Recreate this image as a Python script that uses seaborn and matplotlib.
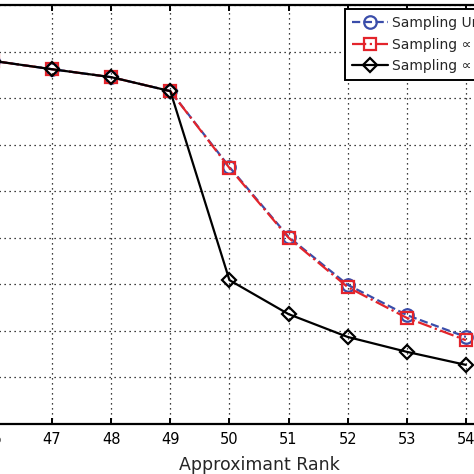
import matplotlib
matplotlib.use("Agg")
import matplotlib.pyplot as plt
import pandas as pd
import seaborn as sns

# approximant rank (x) and error values (arbitrary units)
RANKS = [46, 47, 48, 49, 50, 51, 52, 53, 54]
UNIFORM = [7.80, 7.62, 7.45, 7.15, 5.52, 4.02, 2.99, 2.34, 1.87]
COLNORM = [7.80, 7.62, 7.45, 7.15, 5.50, 4.00, 2.94, 2.28, 1.80]
PROPOSED = [7.80, 7.62, 7.45, 7.15, 3.09, 2.36, 1.87, 1.55, 1.27]

LABELS = ["Sampling Uniformly", "Sampling \u221d Column norms", "Sampling \u221d proposed p"]

STYLES = [
    dict(color="#3a4daa", linestyle="--", marker="o", markersize=9),
    dict(color="#e3242b", linestyle="-.", marker="s", markersize=8),
    dict(color="black", linestyle="-", marker="D", markersize=7.5),
]


def main() -> None:
    sns.set_theme(style="white")
    plt.rcParams["font.family"] = ["DejaVu Sans"]

    df = pd.DataFrame({"rank": RANKS})
    series = [UNIFORM, COLNORM, PROPOSED]

    fig = plt.figure(figsize=(4.74, 4.74), dpi=100)
    ax = fig.add_axes([-7 / 474, 50 / 474, 532 / 474, 419 / 474])

    for label, values, style in zip(LABELS, series, STYLES):
        sns.lineplot(
            x=df["rank"],
            y=values,
            ax=ax,
            label=label,
            linewidth=1.6,
            markerfacecolor="none",
            markeredgecolor=style["color"],
            markeredgewidth=1.6,
            **style,
        )

    ax.set_xlim(46, 55)
    ax.set_ylim(0, 9)
    ax.set_xticks(range(46, 56))
    ax.set_yticks(range(0, 10))
    ax.grid(True, color="black", linestyle=(0, (1, 3)), linewidth=0.9)
    ax.tick_params(axis="x", direction="in", top=True, bottom=True, length=4,
                   width=1.4, labelsize=10.5, pad=6, colors="black")
    ax.tick_params(axis="y", left=False, labelleft=False)
    for sp in ax.spines.values():
        sp.set_color("black")
        sp.set_linewidth(1.6)
    ax.set_xlabel("Approximant Rank", fontsize=12.5, labelpad=6)
    ax.set_ylabel("")

    leg = ax.legend(
        loc="upper left",
        bbox_to_anchor=(345 / 474, 1 - 9 / 474),
        bbox_transform=fig.transFigure,
        borderaxespad=0,
        fontsize=10,
        handlelength=2.6,
        handletextpad=0.3,
        numpoints=1,
        fancybox=False,
        framealpha=1,
        edgecolor="black",
        labelspacing=0.55,
        borderpad=0.5,
    )
    leg.get_frame().set_linewidth(1.4)

    fig.savefig("out.png", dpi=100)


if __name__ == "__main__":
    main()
